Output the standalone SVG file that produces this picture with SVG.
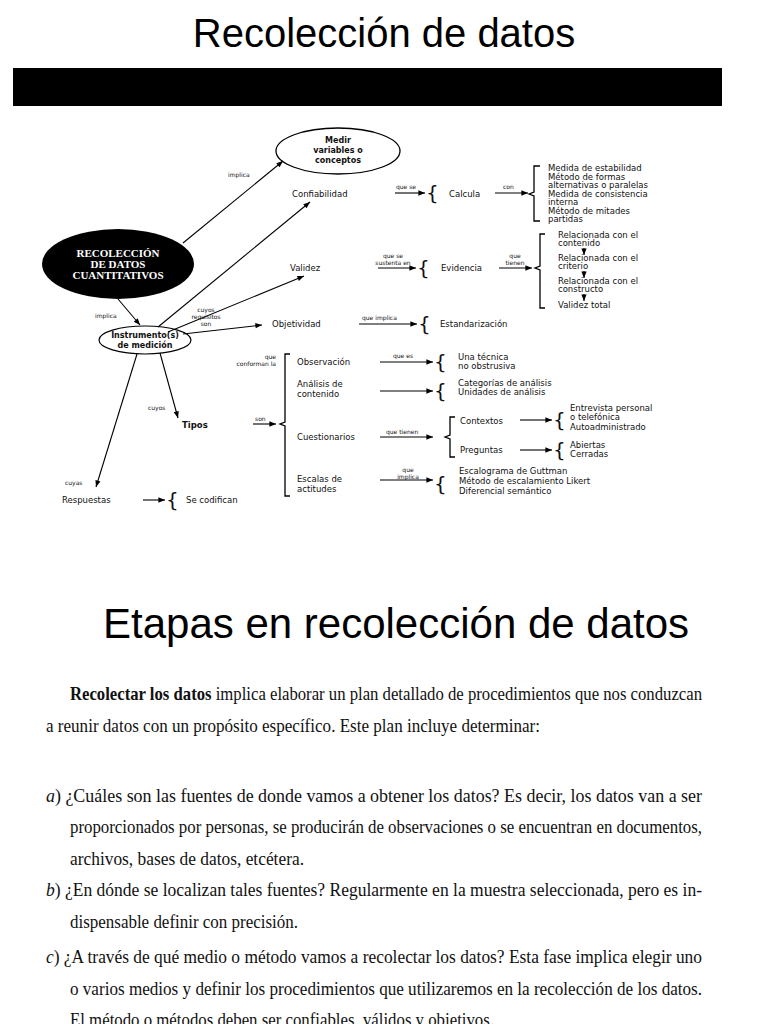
<svg xmlns="http://www.w3.org/2000/svg" width="768" height="1024" viewBox="0 0 768 1024">
<defs>
<marker id="ar" viewBox="0 0 10 10" refX="10" refY="5" markerWidth="7" markerHeight="6" orient="auto"><path d="M0,1 L10,5 L0,9 z" fill="#000"/></marker>
<style>
.t{font-family:"DejaVu Sans",sans-serif;font-size:8.5px;fill:#111}
.s{font-family:"DejaVu Sans",sans-serif;font-size:6px;fill:#111}
.b{font-family:"DejaVu Sans",sans-serif;font-size:8px;font-weight:bold;fill:#111}
.br{font-family:"DejaVu Sans",sans-serif;font-size:20px;fill:#111}
.p{font-family:"Liberation Serif",serif;font-size:19px;fill:#111}
line,path.c{stroke:#000;stroke-width:1.1;fill:none}
.k{stroke:#000;stroke-width:1.3;fill:none}
</style>
</defs>
<rect width="768" height="1024" fill="#fff"/>
<text x="384" y="47" text-anchor="middle" font-family="Liberation Sans,sans-serif" font-size="40">Recolección de datos</text>
<rect x="13" y="68" width="709" height="38" fill="#000"/>

<g id="medir"><ellipse cx="338" cy="151" rx="62" ry="23" fill="#fff" stroke="#000" stroke-width="1.3"/>
<text class="b" text-anchor="middle"><tspan x="338" y="143">Medir</tspan><tspan x="338" y="153">variables o</tspan><tspan x="338" y="163">conceptos</tspan></text></g>
<g id="recoleccion"><ellipse cx="118" cy="264" rx="76" ry="35" fill="#000"/>
<text font-family="Liberation Serif,serif" font-size="11" font-weight="bold" fill="#fff" text-anchor="middle"><tspan x="118" y="257">RECOLECCIÓN</tspan><tspan x="118" y="268">DE DATOS</tspan><tspan x="118" y="279">CUANTITATIVOS</tspan></text></g>
<g id="instrumento"><ellipse cx="145" cy="340" rx="46" ry="14" fill="#fff" stroke="#000" stroke-width="1.2"/>
<text class="b" text-anchor="middle"><tspan x="145" y="338">Instrumento(s)</tspan><tspan x="145" y="348">de medición</tspan></text></g>

<g id="connectors">
<line x1="183" y1="243" x2="283" y2="161" marker-end="url(#ar)"/>
<line x1="118" y1="299" x2="140" y2="325" marker-end="url(#ar)"/>
<line x1="158" y1="327" x2="310" y2="202" marker-end="url(#ar)"/>
<line x1="168" y1="332" x2="304" y2="276" marker-end="url(#ar)"/>
<line x1="183" y1="334" x2="262" y2="325" marker-end="url(#ar)"/>
<line x1="160" y1="353" x2="178" y2="418" marker-end="url(#ar)"/>
<line x1="137" y1="354" x2="96" y2="487" marker-end="url(#ar)"/>
<line x1="395" y1="193" x2="425" y2="193" marker-end="url(#ar)"/>
<line x1="495" y1="193" x2="528" y2="193" marker-end="url(#ar)"/>
<line x1="378" y1="268" x2="416" y2="268" marker-end="url(#ar)"/>
<line x1="499" y1="268" x2="532" y2="268" marker-end="url(#ar)"/>
<line x1="359" y1="324" x2="417" y2="324" marker-end="url(#ar)"/>
<line x1="380" y1="362" x2="433" y2="362" marker-end="url(#ar)"/>
<line x1="380" y1="391" x2="433" y2="391" marker-end="url(#ar)"/>
<line x1="380" y1="437" x2="433" y2="437" marker-end="url(#ar)"/>
<line x1="520" y1="420" x2="552" y2="420" marker-end="url(#ar)"/>
<line x1="520" y1="450" x2="552" y2="450" marker-end="url(#ar)"/>
<line x1="380" y1="480" x2="433" y2="480" marker-end="url(#ar)"/>
<line x1="253" y1="424" x2="276" y2="424" marker-end="url(#ar)"/>
<line x1="143" y1="500" x2="165" y2="500" marker-end="url(#ar)"/>
<line x1="584" y1="248" x2="584" y2="255" marker-end="url(#ar)"/>
<line x1="584" y1="271" x2="584" y2="278" marker-end="url(#ar)"/>
<line x1="584" y1="294" x2="584" y2="301" marker-end="url(#ar)"/>
</g>

<g id="labels">
<text class="s" x="228" y="177">implica</text>
<text class="s" x="95" y="318">implica</text>
<text class="s" text-anchor="middle"><tspan x="206" y="312">cuyos</tspan><tspan x="206" y="319">requisitos</tspan><tspan x="206" y="326">son</tspan></text>
<text class="s" x="148" y="410">cuyos</text>
<text class="s" x="65" y="485">cuyas</text>
<text class="s" x="396" y="189">que se</text>
<text class="s" x="503" y="189">con</text>
<text class="s" text-anchor="middle"><tspan x="393" y="258">que se</tspan><tspan x="393" y="265">sustenta en</tspan></text>
<text class="s" text-anchor="middle"><tspan x="515" y="258">que</tspan><tspan x="515" y="265">tienen</tspan></text>
<text class="s" x="362" y="320">que implica</text>
<text class="s" text-anchor="end"><tspan x="276" y="359">que</tspan><tspan x="276" y="366">conforman la</tspan></text>
<text class="s" x="255" y="421">son</text>
<text class="s" x="393" y="358">que es</text>
<text class="s" x="386" y="434">que tienen</text>
<text class="s" text-anchor="middle"><tspan x="408" y="472">que</tspan><tspan x="408" y="479">implica</tspan></text>
</g>

<g id="nodes">
<text class="t" x="292" y="197">Confiabilidad</text>
<text class="t" x="449" y="197">Calcula</text>
<text class="t" x="290" y="271">Validez</text>
<text class="t" x="441" y="271">Evidencia</text>
<text class="t" x="272" y="327">Objetividad</text>
<text class="t" x="440" y="327">Estandarización</text>
<text class="t" x="182" y="428" font-weight="bold">Tipos</text>
<text class="t" x="62" y="503">Respuestas</text>
<text class="t" x="186" y="503">Se codifican</text>
<text class="t" x="297" y="365">Observación</text>
<text class="t"><tspan x="297" y="387">Análisis de</tspan><tspan x="297" y="397">contenido</tspan></text>
<text class="t" x="297" y="440">Cuestionarios</text>
<text class="t"><tspan x="297" y="482">Escalas de</tspan><tspan x="297" y="492">actitudes</tspan></text>
<text class="t" x="460" y="424">Contextos</text>
<text class="t" x="460" y="453">Preguntas</text>
<g class="t" font-size="6.6"><text x="548" y="171">Medida de estabilidad</text><text x="548" y="180">Método de formas</text><text x="548" y="188">alternativas o paralelas</text><text x="548" y="197">Medida de consistencia</text><text x="548" y="205">interna</text><text x="548" y="214">Método de mitades</text><text x="548" y="222">partidas</text>
<text x="558" y="238">Relacionada con el</text><text x="558" y="246">contenido</text><text x="558" y="261">Relacionada con el</text><text x="558" y="269">criterio</text><text x="558" y="284">Relacionada con el</text><text x="558" y="292">constructo</text><text x="558" y="308">Validez total</text>
<text x="458" y="360">Una técnica</text><text x="458" y="369">no obstrusiva</text>
<text x="458" y="386">Categorías de análisis</text><text x="458" y="395">Unidades de análisis</text>
<text x="570" y="411">Entrevista personal</text><text x="570" y="420">o telefónica</text><text x="570" y="430">Autoadministrado</text>
<text x="570" y="448">Abiertas</text><text x="570" y="457">Cerradas</text>
<text x="459" y="474">Escalograma de Guttman</text><text x="459" y="484">Método de escalamiento Likert</text><text x="459" y="494">Diferencial semántico</text></g>
</g>

<g id="brackets">
<text class="br" x="426" y="200">{</text>
<text class="br" x="417" y="275">{</text>
<text class="br" x="418" y="331">{</text>
<text class="br" x="434" y="369">{</text>
<text class="br" x="434" y="398">{</text>
<text class="br" x="553" y="427">{</text>
<text class="br" x="553" y="457">{</text>
<text class="br" x="434" y="491">{</text>
<text class="br" x="166" y="507">{</text>
<path class="k" d="M540,166 L534,166 L534,192 L529,194 L534,196 L534,221 L540,221"/>
<path class="k" d="M545,234 L540,234 L540,266 L535,268 L540,270 L540,308 L545,308"/>
<path class="k" d="M290,354 L285,354 L285,422 L280,424 L285,426 L285,496 L290,496"/>
<path class="k" d="M455,417 L450,417 L450,435 L445,437 L450,439 L450,457 L455,457"/>
</g>

<text x="103" y="638" font-family="Liberation Sans,sans-serif" font-size="42">Etapas en recolección de datos</text>
<g class="p">
<text x="70" y="700" textLength="632" lengthAdjust="spacingAndGlyphs"><tspan font-weight="bold">Recolectar los datos</tspan> implica elaborar un plan detallado de procedimientos que nos conduzcan</text>
<text x="46" y="732" textLength="494" lengthAdjust="spacingAndGlyphs">a reunir datos con un propósito específico. Este plan incluye determinar:</text>
<text x="46" y="802" textLength="656" lengthAdjust="spacingAndGlyphs"><tspan font-style="italic">a</tspan>)  ¿Cuáles son las fuentes de donde vamos a obtener los datos? Es decir, los datos van a ser</text>
<text x="70" y="833" textLength="632" lengthAdjust="spacingAndGlyphs">proporcionados por personas, se producirán de observaciones o se encuentran en documentos,</text>
<text x="70" y="865" textLength="234" lengthAdjust="spacingAndGlyphs">archivos, bases de datos, etcétera.</text>
<text x="46" y="896" textLength="656" lengthAdjust="spacingAndGlyphs"><tspan font-style="italic">b</tspan>)  ¿En dónde se localizan tales fuentes? Regularmente en la muestra seleccionada, pero es in-</text>
<text x="70" y="928" textLength="228" lengthAdjust="spacingAndGlyphs">dispensable definir con precisión.</text>
<text x="46" y="963" textLength="656" lengthAdjust="spacingAndGlyphs"><tspan font-style="italic">c</tspan>)  ¿A través de qué medio o método vamos a recolectar los datos? Esta fase implica elegir uno</text>
<text x="70" y="995" textLength="632" lengthAdjust="spacingAndGlyphs">o varios medios y definir los procedimientos que utilizaremos en la recolección de los datos.</text>
<text x="70" y="1026" textLength="424" lengthAdjust="spacingAndGlyphs">El método o métodos deben ser confiables, válidos y objetivos.</text>
</g>
</svg>
